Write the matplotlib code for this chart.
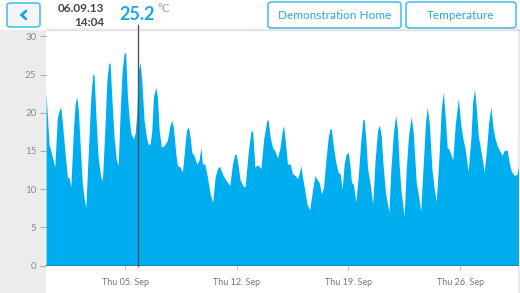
import matplotlib
matplotlib.use("Agg")
import matplotlib.pyplot as plt
import matplotlib.dates as mdates
from matplotlib.patches import FancyBboxPatch, Rectangle
from matplotlib.lines import Line2D
import numpy as np
import pandas as pd

plt.rcParams['font.family'] = ['Lato', 'DejaVu Sans']

# temperature trace, hours since 2013-09-01 00:00
hours = [-23, -18.4, -13.4, -9.8, -5.9, -3.3, -0.8, 1.7, 5.3, 9.2, 12.2, 14.3,
         18.2, 20.8, 23.3, 25.7, 28.3, 31.7, 34.3, 36.9, 40.3, 44.4, 47.4, 49.4,
         51.9, 55.4, 59.4, 61.8, 65.5, 68.5, 71.5, 73.4, 76.0, 79.4, 82.9, 85.5,
         88.5, 91.5, 94.5, 96.8, 99.5, 102, 104.6, 108.5, 111, 113.6, 116, 118.6,
         121.1, 124.6, 128.1, 130.6, 133.6, 136.2, 138.6, 142.2, 144.6, 147.2,
         150.6, 154.7, 159.6, 163.3, 166.3, 168.7, 172.3, 174.7, 178.8, 182.2,
         184.8, 188.2, 191.2, 193.8, 196.4, 199.8, 203.9, 207.3, 209.9, 212.3,
         215.9, 219.8, 223.9, 227.7, 231.4, 234.9, 237.9, 243.9, 249.9, 253.5,
         257.5, 260.8, 263, 265.3, 269, 274.3, 276.6, 281.5, 285.1, 287.8, 291.2,
         295.1, 300.2, 304.4, 309.2, 311.2, 314.2, 317.6, 321.3, 325.2, 329.2,
         332.2, 334.5, 337.8, 340.2, 344.3, 347.7, 351.8, 355.3, 357.8, 360.4,
         362.8, 366.4, 369.4, 373.6, 376.3, 379.3, 381.9, 384.5, 387.9, 391.4,
         394.4, 398, 401.5, 404.5, 406.4, 409.4, 413, 416.5, 419.5, 422.5, 425.5,
         428.5, 431.6, 434.1, 436.5, 439.5, 443.1, 446.6, 450.7, 453.7, 455.6,
         458.2, 460.6, 464.7, 468.4, 472.2, 475.9, 478.5, 481.2, 484.2, 487.7,
         492.8, 495.8, 499.7, 503, 505.7, 508.3, 511.3, 515.8, 518.8, 522.3,
         526.3, 529.4, 533.9, 537.3, 540.6, 544.9, 547.9, 550.4, 553.4, 557.5,
         561, 564, 568.5, 571.5, 574.8, 577.5, 580.5, 582.8, 585.8, 588.8, 592.6,
         597.4, 600.8, 603.8, 607.6, 612.1, 616.2, 618.9, 621.6, 624.1, 627.2,
         630.2, 633.2, 636.2, 639.9, 643, 646.3, 649, 652, 655.7, 659.5, 663.3,
         666.3, 670.8, 673.8, 676.8, 681.3, 685.1, 688.9]
temps = [22.7, 15.9, 14.2, 12.9, 19.4, 20.3, 20.8, 18.6, 15.1, 11.6, 11.4, 10.3,
         17.7, 21.2, 22.1, 20.3, 15.9, 10.7, 8.9, 7.6, 14.2, 22.1, 25.1, 24.9,
         19.9, 14.2, 11.6, 11.1, 17.7, 24.2, 26.6, 26.4, 22.1, 16.8, 13.8, 13.1,
         19.9, 25.5, 27.8, 27.9, 22.1, 19.4, 17.3, 16.6, 17.3, 19.9, 25.5, 26.6,
         24.2, 19.0, 16.8, 15.9, 15.9, 17.7, 22.1, 23.3, 22.1, 17.7,
         15.5, 15.7, 16.4, 18.3, 19.0, 18.1, 14.6, 13.1, 12.9, 12.2,
         14.6, 17.7, 18.2, 16.8, 14.8, 14.4, 13.3, 13.8, 15.5, 13.3,
         13.3, 11.6, 9.4, 8.3, 11.6, 12.7, 13.0, 11.7, 10.9, 10.5,
         13.3, 14.5, 14.6, 13.5, 11.2, 10.3, 10.4, 15.1, 17.5, 17.7, 12.9,
         13.2, 12.7, 16.5, 19.1, 19.0, 16.8, 15.5, 15.0, 14.1, 15.5,
         17.6, 18.3, 15.5, 13.3, 13.3, 12.0, 11.8, 11.4, 12.0, 13.1,
         11.6, 9.8, 8.1, 7.3, 8.9, 10.7, 11.8, 11.3, 10.9, 9.4,
         10.2, 13.8, 16.8, 18.0, 17.8, 15.5, 13.5, 12.2, 12.0, 10.0, 13.3,
         14.6, 14.8, 13.3, 10.9, 10.6, 8.3, 11.6, 16.5, 19.2, 19.1,
         16.5, 12.8, 10.6, 8.1, 14.0, 17.8, 18.4, 17.0, 13.0, 9.5,
         7.0, 12.7, 17.5, 19.7, 17.8, 13.0, 9.5, 6.5, 12.5, 17.0,
         19.5, 17.5, 10.9, 9.2, 7.1, 14.0, 18.8, 20.7, 18.8, 12.7,
         10.0, 8.4, 14.8, 20.5, 22.7, 19.5, 15.4, 15.3, 14.6, 13.8, 18.5,
         21.9, 18.5, 16.8, 15.2, 12.3, 16.8, 21.5, 23.1, 20.8, 17.0,
         15.5, 14.0, 12.2, 15.5, 18.8, 20.8, 18.3, 16.8, 15.7, 15.0, 14.4,
         15.1, 15.1, 13.5, 12.4, 11.8, 11.9, 13.3]

y_ticks = [0, 5, 10, 15, 20, 25, 30]
x_tick_days = ['2013-09-05', '2013-09-12', '2013-09-19', '2013-09-26']
cursor_hour = 114.8
cursor_date = '06.09.13'
cursor_time = '14:04'
cursor_value = '25.2'
unit = '°C'
buttons = ['Demonstration Home', 'Temperature']

W, H = 520, 293
base = pd.Timestamp('2013-09-01')
times = base + pd.to_timedelta(hours, unit='h')

fig = plt.figure(figsize=(W / 100, H / 100), dpi=100)
fig.patch.set_facecolor('white')


def fx(px):
    return px / W


def fy(py):
    return 1 - py / H


# gray left margin
fig.patches.append(Rectangle((0, 0), fx(46), fy(30), transform=fig.transFigure,
                             facecolor='#ececec', edgecolor='none', zorder=-5))

ax = fig.add_axes([fx(46), fy(265.5), fx(518) - fx(46), fy(30) - fy(265.5)])
ax.set_zorder(2)
ax.fill_between(times, temps, 0, color='#00aeef', lw=0, zorder=2)
ax.axhline(0, color='#0590c4', lw=1.5, zorder=3)
ax.set_xlim(base - pd.Timedelta(hours=23), base + pd.Timedelta(hours=687))
ax.set_ylim(0, 30.85)
for s in ax.spines.values():
    s.set_visible(False)

ax.set_yticks(y_ticks)
ax.set_xticks(pd.to_datetime(x_tick_days))
ax.xaxis.set_major_formatter(mdates.DateFormatter('%a %d. %b'))
ax.tick_params(axis='y', length=4, width=0.8, color='#aaaaaa', pad=3,
               labelsize=7, labelcolor='#8a8a8a', direction='out')
ax.tick_params(axis='x', length=3, width=0.8, color='#bbbbbb', pad=6,
               labelsize=6.5, labelcolor='#777777', direction='out')

# cursor line
ax.axvline(base + pd.Timedelta(hours=cursor_hour), ymin=0, ymax=1.02,
           color='#555555', lw=1, zorder=4, clip_on=False)

# shadows on top and right of the plot area
for i, a in enumerate([0.22, 0.12, 0.06]):
    fig.lines.append(Line2D([fx(46), 1], [fy(30 - i), fy(30 - i)],
                            transform=fig.transFigure, color='#888888',
                            alpha=a, lw=1))
for i, a in enumerate([0.18, 0.1]):
    fig.lines.append(Line2D([fx(518 + i), fx(518 + i)], [fy(293), fy(30)],
                            transform=fig.transFigure, color='#888888',
                            alpha=a, lw=1))

# header: back button
fig.patches.append(FancyBboxPatch((fx(7), fy(27)), fx(33), fy(3) - fy(27),
                                  boxstyle='round,pad=0,rounding_size=0.008',
                                  transform=fig.transFigure, facecolor='#f5f5f5',
                                  edgecolor='#4fc0ee', lw=1.2))
fig.lines.append(Line2D([fx(26), fx(21.5), fx(26)], [fy(11), fy(15), fy(19)],
                        transform=fig.transFigure, color='#1aa3e0', lw=2,
                        solid_capstyle='round', solid_joinstyle='miter'))

fig.text(fx(104), fy(8.5), cursor_date, ha='right', va='center', fontsize=8.5,
         fontweight='bold', color='#454545')
fig.text(fx(104), fy(22), cursor_time, ha='right', va='center', fontsize=8.5,
         fontweight='bold', color='#454545')
fig.text(fx(119), fy(15), cursor_value, ha='left', va='center', fontsize=13,
         fontweight='bold', color='#1ea6e4')
fig.text(fx(157), fy(8), unit, ha='left', va='center', fontsize=8.5,
         color='#999999')

# header buttons
for (x0, x1), label in zip([(268, 401), (406, 516)], buttons):
    fig.patches.append(FancyBboxPatch((fx(x0), fy(28)), fx(x1 - x0), fy(2) - fy(28),
                                      boxstyle='round,pad=0,rounding_size=0.008',
                                      transform=fig.transFigure, facecolor='white',
                                      edgecolor='#4fc0ee', lw=1.2))
    fig.text(fx((x0 + x1) / 2), fy(15.5), label, ha='center', va='center',
             fontsize=8.5, color='#2aa8e2')

fig.savefig('out.png', dpi=100)
